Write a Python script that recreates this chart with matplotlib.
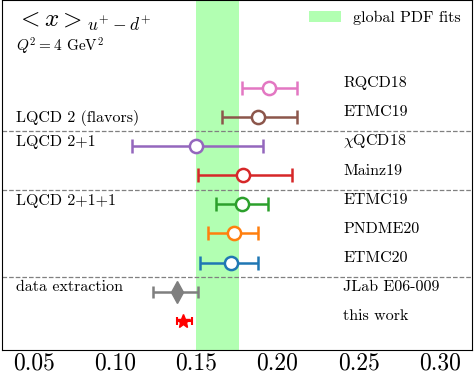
import matplotlib
matplotlib.use("Agg")
import matplotlib.pyplot as plt

plt.rcParams['font.family'] = 'serif'
plt.rcParams['font.serif'] = ['cmr10']
plt.rcParams['mathtext.fontset'] = 'cm'
plt.rcParams['axes.formatter.use_mathtext'] = True

# data (top to bottom)
labels = ['RQCD18', 'ETMC19', r'$\chi$QCD18', 'Mainz19', 'ETMC19',
          'PNDME20', 'ETMC20', 'JLab E06-009', 'this work']
centers = [0.195, 0.188, 0.150, 0.179, 0.178, 0.173, 0.171, 0.138, 0.142]
lows = [0.178, 0.1655, 0.1105, 0.151, 0.162, 0.157, 0.152, 0.123, 0.138]
highs = [0.212, 0.212, 0.191, 0.209, 0.194, 0.188, 0.188, 0.151, 0.1475]
ypos = [9, 8, 7, 6, 5, 4, 3, 2, 1]
colors = ['#e377c2', '#8c564b', '#9467bd', '#d62728', '#2ca02c',
          '#ff7f0e', '#1f77b4', '#7f7f7f', 'red']

groups = ['LQCD 2 (flavors)', 'LQCD 2+1', 'LQCD 2+1+1', 'data extraction']
group_y = [7.97, 7.12, 5.1, 2.14]
dividers = [7.5, 5.5, 2.5]

pdf_band = (0.15, 0.176)

fig = plt.figure(figsize=(4.74, 3.74), dpi=100)
ax = fig.add_axes([0.004, 0.064, 0.992, 0.936])

ax.axvspan(pdf_band[0], pdf_band[1], color='lime', alpha=0.3, lw=0,
           label='global PDF fits')

for i in range(len(labels)):
    xerr = [[centers[i] - lows[i]], [highs[i] - centers[i]]]
    if i == len(labels) - 1:
        ax.errorbar(centers[i], ypos[i], xerr=xerr, fmt='*', color=colors[i],
                    ms=10, lw=1.5, capsize=3, capthick=1.5, zorder=3)
    elif i == len(labels) - 2:
        ax.errorbar(centers[i], ypos[i], xerr=xerr, fmt='d', color=colors[i],
                    ms=11, lw=1.8, capsize=4.5, capthick=1.8, zorder=3)
    else:
        ax.errorbar(centers[i], ypos[i], xerr=xerr, fmt='o', color=colors[i],
                    mfc='white', mec=colors[i], mew=1.8, ms=9.5, lw=1.8,
                    capsize=5, capthick=1.8, zorder=3)
    ax.text(0.2405, ypos[i] + 0.15, labels[i], fontsize=11.5, va='center')

for g, gy in zip(groups, group_y):
    ax.text(0.039, gy, g, fontsize=11.5, va='center')

for d in dividers:
    ax.axhline(d, color='gray', ls='--', lw=0.9)

ax.text(0.039, 11.25, r'$<x>_{u^{+}-d^{+}}$', fontsize=18, va='center')
ax.text(0.039, 10.4, r'$Q^2=4$ GeV$^2$', fontsize=11, va='center')

ax.set_xlim(0.03, 0.32)
ax.set_ylim(0, 12)
ax.set_yticks([])
ax.set_xticks([0.05, 0.10, 0.15, 0.20, 0.25, 0.30])
ax.set_xticklabels(['0.05', '0.10', '0.15', '0.20', '0.25', '0.30'])
ax.tick_params(axis='x', labelsize=17, length=0, pad=2)

ax.legend(loc='upper right', frameon=False, fontsize=11.5, handlelength=2,
          borderaxespad=0.3)

fig.savefig('out.png', dpi=100)
